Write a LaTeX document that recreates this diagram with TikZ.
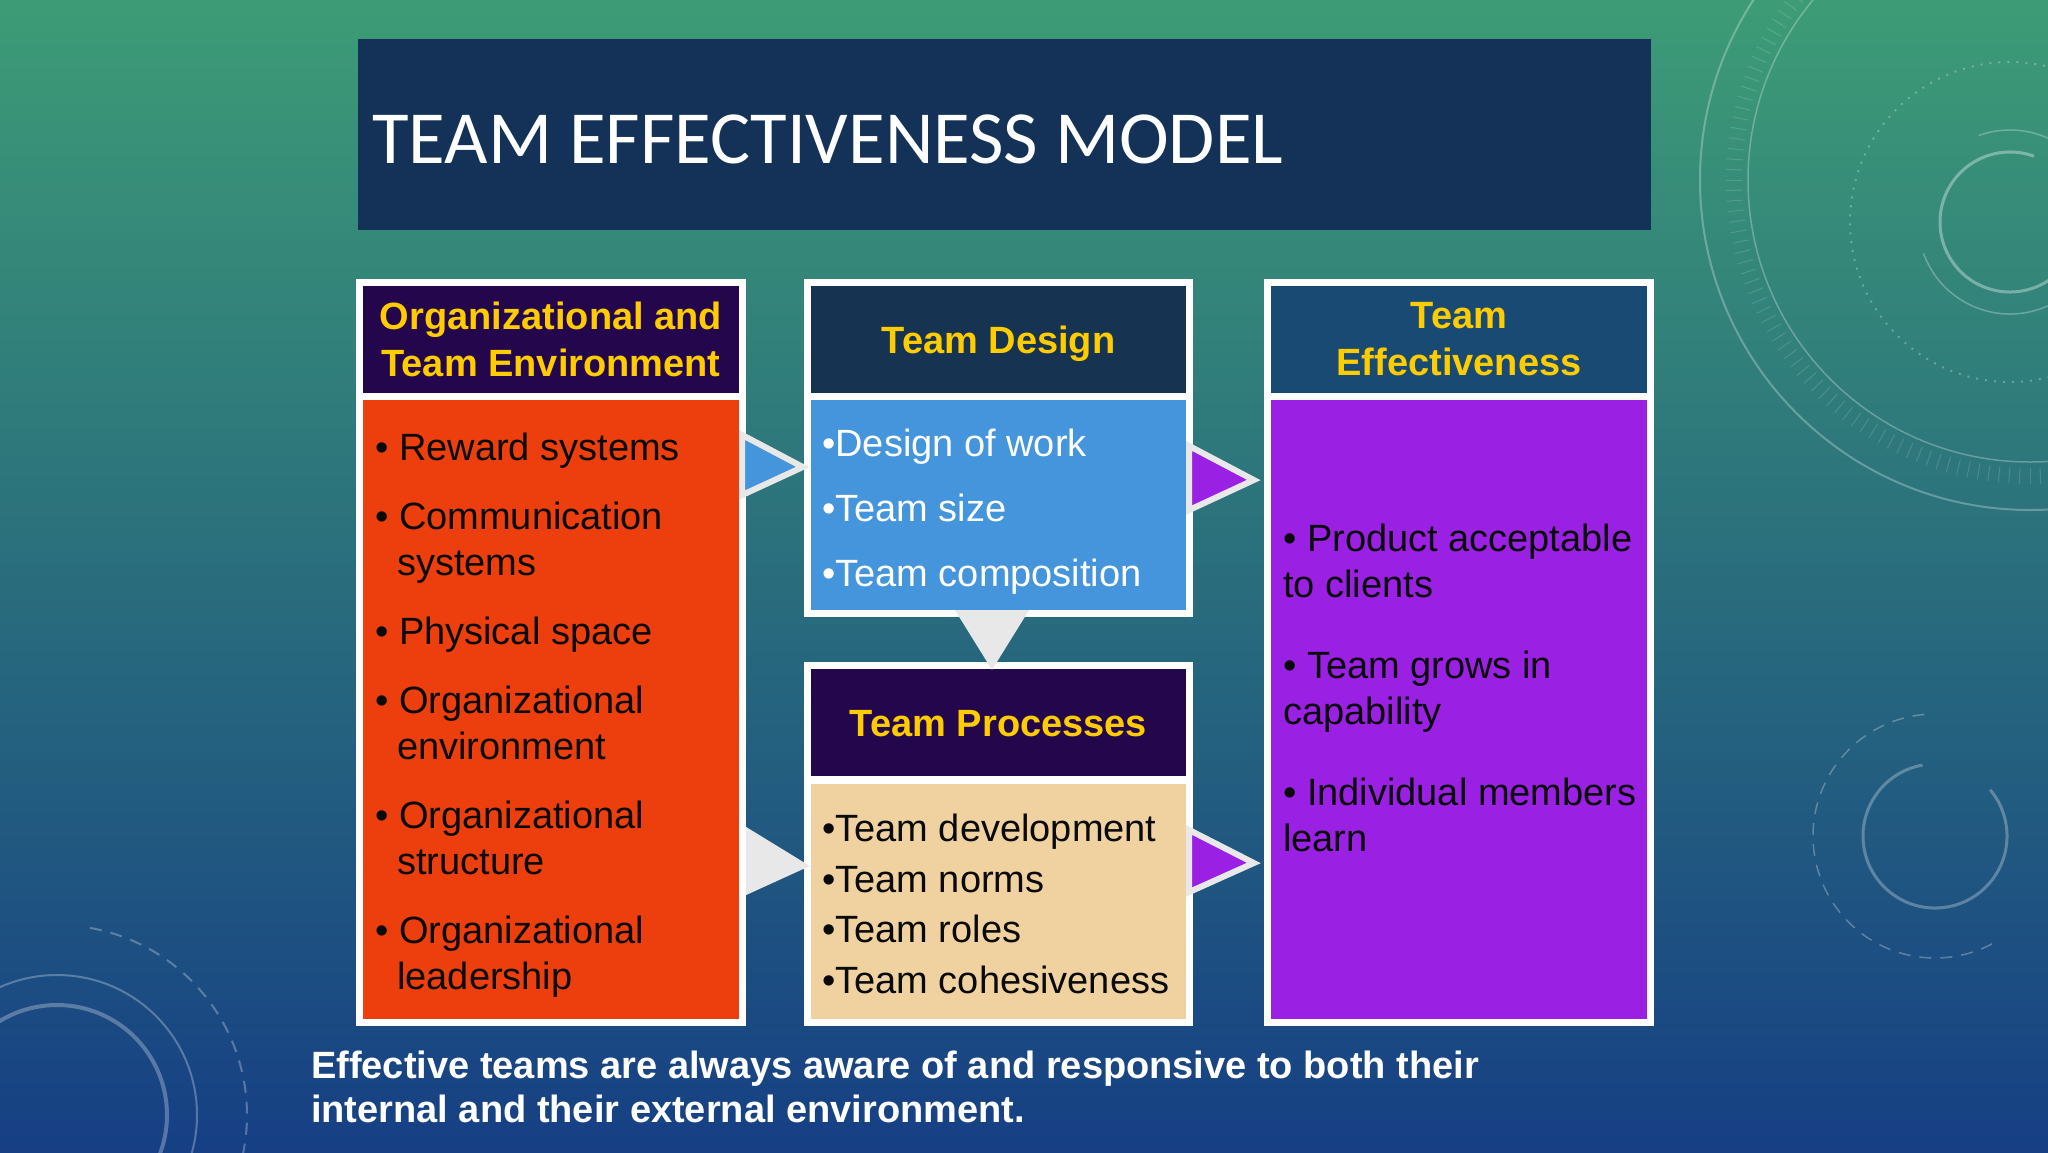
\documentclass[tikz,border=0pt]{standalone}
\usepackage{fontspec}
\setmainfont{Liberation Sans}
\newfontfamily\titlefont{Carlito}
\usetikzlibrary{calc}

\definecolor{bgtop}{HTML}{3D9C76}
\definecolor{bgmid}{HTML}{2A7184}
\definecolor{bgbot}{HTML}{163F84}
\definecolor{titlebox}{HTML}{143258}
\definecolor{hdrpurple}{HTML}{23064B}
\definecolor{hdrnavy}{HTML}{163352}
\definecolor{hdrblue}{HTML}{184A73}
\definecolor{hdrgold}{HTML}{FFCC00}
\definecolor{bodyorange}{HTML}{EC3F0D}
\definecolor{bodyblue}{HTML}{4495DB}
\definecolor{bodytan}{HTML}{F0D2A0}
\definecolor{bodypurple}{HTML}{9A20E4}
\definecolor{tristroke}{HTML}{E8E8E8}
\definecolor{inktext}{HTML}{0A0A0A}

\tikzset{
  colframe/.style={fill=white, draw=none, inner sep=0pt},
  hdrbox/.style={draw=none, inner sep=0pt, minimum height=107,
    font=\fontsize{38}{47}\selectfont\bfseries, text=hdrgold, align=center},
  onehdr/.style={text height=27.5, text depth=0},
  bodybox/.style={draw=none, inner sep=0pt},
  itemtext/.style={font=\fontsize{38}{46}\selectfont, anchor=base west, inner sep=0pt, text=inktext},
  notetext/.style={font=\fontsize{38}{45}\selectfont\bfseries, anchor=base west, inner sep=0pt, text=white},
  tri/.style={draw=tristroke, line width=6pt, line join=miter},
  deco/.style={draw=white, draw opacity=0.28},
  longdash/.style={dash pattern=on 12pt off 9pt},
  fineDots/.style={dash pattern=on 2pt off 7pt},
}

\begin{document}
\begin{tikzpicture}[x=1pt, y=-1pt]
\useasboundingbox (0,0) rectangle (2048,1152);
\shade[top color=bgtop, middle color=bgmid, bottom color=bgbot] (0,0) rectangle (2048,1152);

% background decorations
\draw[deco, line width=2pt] (2030,180) circle[radius=330pt];
\draw[deco, line width=1.5pt] (2030,180) circle[radius=282pt];
\foreach \a in {100,102,...,300}
  \draw[draw=white, draw opacity=0.14, line width=1pt] ($(2030,180)+(\a:288pt)$) -- ($(2030,180)+(\a:304pt)$);
\draw[deco, line width=2pt, fineDots] (2010,222) circle[radius=160pt];
\draw[deco, line width=1.5pt] (2010,222) ++(-160:92pt) arc[start angle=-160, end angle=110, radius=92pt];
\draw[deco, line width=3pt, draw opacity=0.35] (2010,222) ++(70:70pt) arc[start angle=70, end angle=340, radius=70pt];

\draw[deco, line width=3pt] (1935,836) ++(100:72pt) arc[start angle=100, end angle=400, radius=72pt];
\draw[deco, line width=1.5pt, longdash] (1935,836) ++(95:122pt) arc[start angle=95, end angle=300, radius=122pt];

\draw[deco, line width=4pt] (57,1115) circle[radius=110pt];
\draw[deco, line width=2pt] (57,1115) circle[radius=140pt];
\draw[deco, line width=2pt, longdash] (57,1115) ++(80:190pt) arc[start angle=80, end angle=-12, radius=190pt];

% title
\node[fill=titlebox, draw=none, inner sep=0pt, minimum width=1293, minimum height=191] (titlebar) at (1004.5,134.5) {};
\node[anchor=base west, inner sep=0pt, text=white, font=\titlefont\fontsize{75}{75}\selectfont] (title) at (372,163) {TEAM EFFECTIVENESS MODEL};

% frames
\node[colframe, minimum width=390, minimum height=747] (leftframe) at (551,652.5) {};
\node[colframe, minimum width=389, minimum height=338] (designframe) at (998.5,448) {};
\node[colframe, minimum width=389, minimum height=364] (procframe) at (998.5,844) {};
\node[colframe, minimum width=390, minimum height=747] (effframe) at (1459,652.5) {};

% headers
\node[hdrbox, fill=hdrpurple, minimum width=376] (envhead) at (551,339.5) {Organizational and\\Team Environment};
\node[hdrbox, onehdr, fill=hdrnavy, minimum width=375] (designhead) at (998.5,339.5) {Team Design};
\node[hdrbox, onehdr, fill=hdrpurple, minimum width=375] (prochead) at (998.5,722.5) {Team Processes};
\node[hdrbox, fill=hdrblue, minimum width=376] (effhead) at (1459,339.5) {Team\\Effectiveness};

% bodies
\node[bodybox, fill=bodyorange, minimum width=376, minimum height=619] (envbody) at (551,709.5) {};
\node[bodybox, fill=bodyblue, minimum width=375, minimum height=210] (designbody) at (998.5,505) {};
\node[bodybox, fill=bodytan, minimum width=375, minimum height=235] (procbody) at (998.5,901.5) {};
\node[bodybox, fill=bodypurple, minimum width=376, minimum height=619] (effbody) at (1459,709.5) {};

% connector triangles
\draw[tri, fill=bodyblue] ($(envbody.east |- 0,435)+(3,0)$) -- ($(designframe.west |- 0,467)+(-1,0)$) -- ($(envbody.east |- 0,495)+(3,0)$) -- cycle;
\draw[tri, fill=bodypurple] ($(designbody.east |- 0,446)+(3,0)$) -- ($(effframe.west |- 0,480)+(-10,0)$) -- ($(designbody.east |- 0,510)+(3,0)$) -- cycle;
\fill[tristroke] (leftframe.east |- 0,827) -- ($(procframe.west |- 0,866)+(6,0)$) -- (leftframe.east |- 0,895) -- cycle;
\draw[tri, fill=bodypurple] ($(procbody.east |- 0,830)+(3,0)$) -- ($(effframe.west |- 0,863)+(-10,0)$) -- ($(procbody.east |- 0,892)+(3,0)$) -- cycle;
\fill[tristroke] ($(designbody.south)+(-43.5,0)$) -- ($(designbody.south)+(30.5,0)$) -- ($(prochead.north)+(-6.5,1)$) -- cycle;

% left column items
\node[itemtext] (env1) at (375,460) {• Reward systems};
\node[itemtext] (env2) at (375,529) {• Communication};
\node[itemtext] (env2b) at (397,575) {systems};
\node[itemtext] (env3) at (375,644) {• Physical space};
\node[itemtext] (env4) at (375,713) {• Organizational};
\node[itemtext] (env4b) at (397,759) {environment};
\node[itemtext] (env5) at (375,828) {• Organizational};
\node[itemtext] (env5b) at (397,874) {structure};
\node[itemtext] (env6) at (375,943) {• Organizational};
\node[itemtext] (env6b) at (397,989) {leadership};

% team design items
\node[itemtext, text=white] (des1) at (822,456) {•Design of work};
\node[itemtext, text=white] (des2) at (822,521) {•Team size};
\node[itemtext, text=white] (des3) at (822,586) {•Team composition};

% team processes items
\node[itemtext] (pro1) at (822,841) {•Team development};
\node[itemtext] (pro2) at (822,892) {•Team norms};
\node[itemtext] (pro3) at (822,942) {•Team roles};
\node[itemtext] (pro4) at (822,993) {•Team cohesiveness};

% effectiveness items
\node[itemtext] (eff1) at (1283,551) {• Product acceptable};
\node[itemtext] (eff1b) at (1283,597) {to clients};
\node[itemtext] (eff2) at (1283,678) {• Team grows in};
\node[itemtext] (eff2b) at (1283,724) {capability};
\node[itemtext] (eff3) at (1283,805) {• Individual members};
\node[itemtext] (eff3b) at (1283,851) {learn};

% note
\node[notetext] (note1) at (311,1078) {Effective teams are always aware of and responsive to both their};
\node[notetext] (note2) at (311,1122) {internal and their external environment.};
\end{tikzpicture}
\end{document}
